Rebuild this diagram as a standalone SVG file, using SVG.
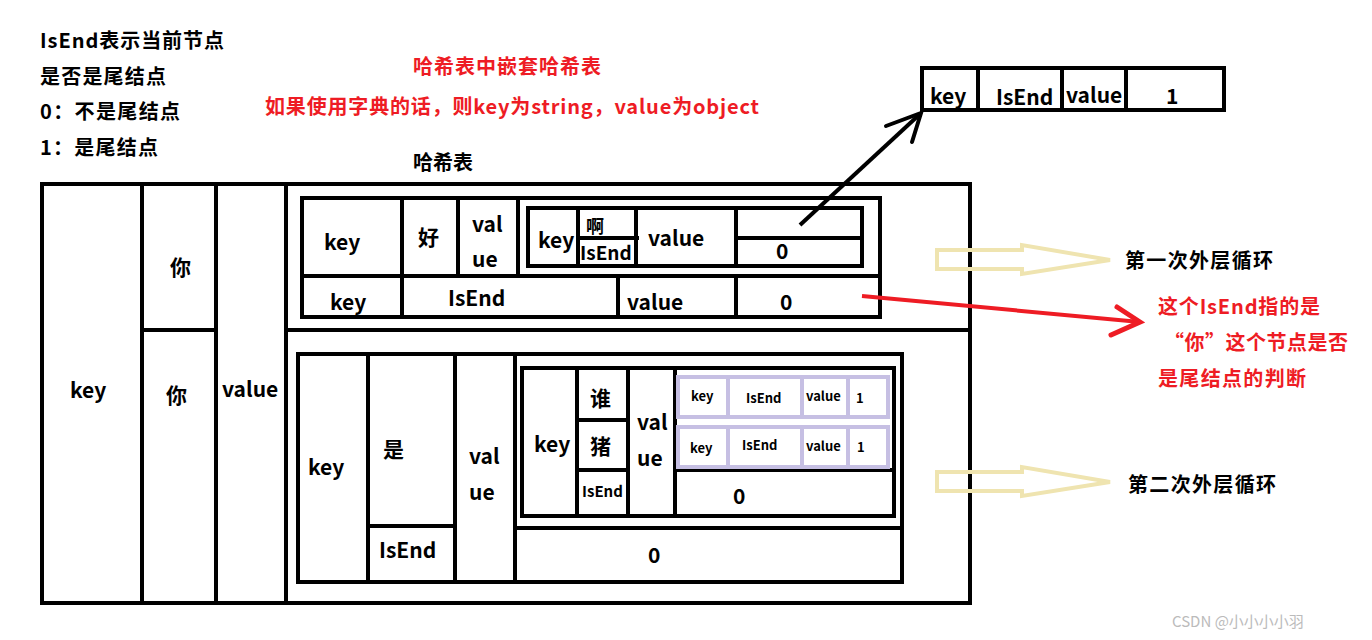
<svg xmlns="http://www.w3.org/2000/svg" width="1372" height="640" viewBox="0 0 1372 640">
<style>
.b{fill:#fff;stroke:#000;stroke-width:4}
.l{stroke:#000;stroke-width:4;fill:none}
.p{fill:#fff;stroke:#c6bfe3;stroke-width:4}
text{font-family:"Microsoft YaHei","Noto Sans CJK SC",sans-serif;font-weight:bold;fill:#000}
.t{font-size:21px}
.s{font-size:13px}
.r{fill:#ee1c24;font-size:20px}
.n{font-size:20px}
</style>
<rect width="1372" height="640" fill="#fff"/>
<g id="notes">
<text class="n" x="40" y="48" textLength="184">IsEnd表示当前节点</text>
<text class="n" x="40" y="84" textLength="126">是否是尾结点</text>
<text class="n" x="40" y="119" textLength="140">0：不是尾结点</text>
<text class="n" x="40" y="155" textLength="118">1：是尾结点</text>
<text class="r" x="413" y="74" textLength="188">哈希表中嵌套哈希表</text>
<text class="r" x="265" y="114" textLength="494">如果使用字典的话，则key为string，value为object</text>
<text class="n" x="413" y="170">哈希表</text>
</g>
<g id="outer">
<rect class="b" x="42" y="184" width="928" height="419"/>
<path class="l" d="M142,184V603M216,184V603M286,184V603M142,330H216M286,330H970"/>
<text class="t" x="70" y="398">key</text>
<text class="t" x="170" y="275">你</text>
<text class="t" x="166" y="403">你</text>
<text class="t" x="222" y="397">value</text>
</g>
<g id="top-table">
<rect class="b" x="302" y="198" width="578" height="119"/>
<path class="l" d="M302,276H880M402,198V317M458,198V276M518,198V276M618,276V317M736,276V317"/>
<text class="t" x="324" y="250">key</text>
<text class="t" x="418" y="245">好</text>
<text class="t" x="472" y="232">val</text>
<text class="t" x="472" y="267">ue</text>
<text class="t" x="330" y="310">key</text>
<text class="t" x="448" y="306">IsEnd</text>
<text class="t" x="627" y="310">value</text>
<text class="t" x="780" y="310">0</text>
</g>
<g id="top-inner">
<rect class="b" x="528" y="208" width="334" height="58"/>
<path class="l" d="M578,208V266M636,208V266M736,208V266M578,238H639M736,238H862"/>
<text class="t" x="538" y="248">key</text>
<text x="586" y="233" style="font-size:18px">啊</text>
<text x="580" y="260" style="font-size:19px">IsEnd</text>
<text class="t" x="648" y="246">value</text>
<text class="t" x="776" y="259">0</text>
</g>
<g id="bottom-table">
<rect class="b" x="298" y="354" width="604" height="228"/>
<path class="l" d="M368,354V582M455,354V582M515,354V582M368,526H455M515,528H902"/>
<text class="t" x="308" y="475">key</text>
<text class="t" x="383" y="457">是</text>
<text class="t" x="469" y="464">val</text>
<text class="t" x="469" y="500">ue</text>
<text class="t" x="379" y="558">IsEnd</text>
<text class="t" x="648" y="563">0</text>
</g>
<g id="bottom-inner">
<rect class="b" x="522" y="368" width="372" height="148"/>
<path class="l" d="M577,368V516M628,368V516M675,368V516M577,420H628M577,470H628M675,470H894"/>
<text class="t" x="534" y="452">key</text>
<text class="t" x="590" y="406">谁</text>
<text class="t" x="590" y="454">猪</text>
<text x="582" y="497" style="font-size:15px">IsEnd</text>
<text class="t" x="637" y="430">val</text>
<text class="t" x="637" y="466">ue</text>
<text class="t" x="733" y="504">0</text>
</g>
<g id="purple-rows">
<rect class="p" x="678" y="377" width="50" height="40"/><rect class="p" x="728" y="377" width="74" height="40"/><rect class="p" x="802" y="377" width="46" height="40"/><rect class="p" x="848" y="377" width="40" height="40"/>
<text class="s" x="691" y="401">key</text><text class="s" x="746" y="403">IsEnd</text><text class="s" x="806" y="401">value</text><text class="s" x="856" y="403">1</text>
<rect class="p" x="678" y="427" width="50" height="40"/><rect class="p" x="728" y="427" width="74" height="40"/><rect class="p" x="802" y="427" width="46" height="40"/><rect class="p" x="848" y="427" width="40" height="40"/>
<text class="s" x="690" y="453">key</text><text class="s" x="742" y="450">IsEnd</text><text class="s" x="806" y="451">value</text><text class="s" x="857" y="452">1</text>
</g>
<g id="tr-box">
<rect class="b" x="922" y="68" width="302" height="42"/>
<path class="l" d="M978,68V110M1062,68V110M1126,68V110"/>
<text class="t" x="930" y="104">key</text>
<text class="t" x="996" y="105">IsEnd</text>
<text class="t" x="1066" y="103">value</text>
<text class="t" x="1166" y="104">1</text>
</g>
<g id="connectors">
<path d="M800,225L920,114" stroke="#000" stroke-width="4" fill="none"/>
<path d="M886,126L921,113L912,142" stroke="#000" stroke-width="4" fill="none" stroke-linecap="round"/>
<path d="M862,296L1140,322" stroke="#ee1c24" stroke-width="4" fill="none"/>
<path d="M1117,307L1140,322L1111,335" stroke="#ee1c24" stroke-width="5" fill="none" stroke-linecap="round"/>
<path d="M937,250H1022V245L1110,260L1022,274V269H937Z" fill="none" stroke="#efe4b0" stroke-width="4"/>
<path d="M937,472H1022V467L1110,482L1022,496V491H937Z" fill="none" stroke="#efe4b0" stroke-width="4"/>
</g>
<g id="labels">
<text class="n" x="1125" y="268" textLength="148">第一次外层循环</text>
<text class="n" x="1128" y="492" textLength="148">第二次外层循环</text>
<text class="r" x="1158" y="314" textLength="162">这个IsEnd指的是</text>
<text class="r" x="1164" y="350" textLength="184">“你”这个节点是否</text>
<text class="r" x="1158" y="386" textLength="148">是尾结点的判断</text>
<text x="1172" y="627" style="font-size:15px;font-weight:normal;fill:#bbb">CSDN @小小小小羽</text>
</g>
</svg>
